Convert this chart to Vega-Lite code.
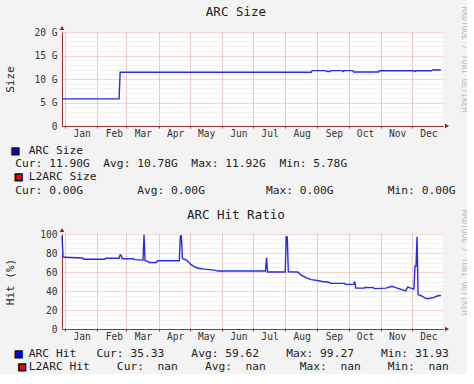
{
"$schema": "https://vega.github.io/schema/vega-lite/v6.json",
"background": "#f3f3f3",
"padding": {"left": 4, "top": 5, "right": 0, "bottom": 0},
"spacing": 10,
"config": {
  "font": "DejaVu Sans Mono",
  "view": {"stroke": null},
  "title": {"font": "DejaVu Sans Mono", "fontSize": 12.5, "fontWeight": "normal", "color": "#222222", "anchor": "middle", "offset": -12},
  "axis": {"labelFont": "DejaVu Sans Mono", "labelFontSize": 9.6, "labelColor": "#333333", "titleFont": "DejaVu Sans Mono", "titleFontSize": 11, "titleFontWeight": "normal", "titleColor": "#222222", "domainColor": "#993333"},
  "text": {"font": "DejaVu Sans Mono"}
},
"datasets": {
  "arc": [
    {"date": "2014-12-29", "v": 5.78}, {"date": "2015-02-22", "v": 5.78}, {"date": "2015-02-23", "v": 11.45},
    {"date": "2015-08-26", "v": 11.45}, {"date": "2015-08-27", "v": 11.78}, {"date": "2015-09-09", "v": 11.78},
    {"date": "2015-09-10", "v": 11.6}, {"date": "2015-09-13", "v": 11.6}, {"date": "2015-09-14", "v": 11.78},
    {"date": "2015-09-25", "v": 11.78}, {"date": "2015-09-26", "v": 11.6}, {"date": "2015-09-27", "v": 11.78},
    {"date": "2015-10-05", "v": 11.78}, {"date": "2015-10-06", "v": 11.5}, {"date": "2015-10-30", "v": 11.5},
    {"date": "2015-10-31", "v": 11.75}, {"date": "2015-12-03", "v": 11.75}, {"date": "2015-12-04", "v": 11.58},
    {"date": "2015-12-05", "v": 11.75}, {"date": "2015-12-20", "v": 11.75}, {"date": "2015-12-21", "v": 11.92},
    {"date": "2015-12-29", "v": 11.9}
  ],
  "hit": [
    {"date": "2014-12-29", "v": 98}, {"date": "2014-12-30", "v": 76}, {"date": "2014-12-31", "v": 75.5},
    {"date": "2015-01-18", "v": 74.8}, {"date": "2015-01-19", "v": 73.5}, {"date": "2015-02-08", "v": 73.5},
    {"date": "2015-02-09", "v": 74.5}, {"date": "2015-02-22", "v": 74.5}, {"date": "2015-02-23", "v": 78},
    {"date": "2015-02-24", "v": 77.5}, {"date": "2015-02-25", "v": 74}, {"date": "2015-03-08", "v": 74},
    {"date": "2015-03-09", "v": 73}, {"date": "2015-03-17", "v": 72.5}, {"date": "2015-03-18", "v": 99.27},
    {"date": "2015-03-19", "v": 72}, {"date": "2015-03-21", "v": 71.5}, {"date": "2015-03-23", "v": 70},
    {"date": "2015-03-30", "v": 70}, {"date": "2015-03-31", "v": 71.8}, {"date": "2015-04-21", "v": 71.8},
    {"date": "2015-04-22", "v": 98}, {"date": "2015-04-23", "v": 98}, {"date": "2015-04-24", "v": 74},
    {"date": "2015-04-27", "v": 73}, {"date": "2015-04-29", "v": 71.5}, {"date": "2015-05-02", "v": 68},
    {"date": "2015-05-05", "v": 66}, {"date": "2015-05-09", "v": 64}, {"date": "2015-05-15", "v": 63},
    {"date": "2015-05-25", "v": 62}, {"date": "2015-05-28", "v": 61}, {"date": "2015-07-13", "v": 61},
    {"date": "2015-07-14", "v": 75}, {"date": "2015-07-15", "v": 60}, {"date": "2015-08-01", "v": 60},
    {"date": "2015-08-02", "v": 97}, {"date": "2015-08-03", "v": 97}, {"date": "2015-08-04", "v": 60.2},
    {"date": "2015-08-13", "v": 60}, {"date": "2015-08-16", "v": 57}, {"date": "2015-08-21", "v": 54},
    {"date": "2015-08-26", "v": 52}, {"date": "2015-09-01", "v": 51}, {"date": "2015-09-06", "v": 50},
    {"date": "2015-09-11", "v": 49.5}, {"date": "2015-09-14", "v": 48.2}, {"date": "2015-09-27", "v": 48},
    {"date": "2015-09-28", "v": 47}, {"date": "2015-10-06", "v": 47}, {"date": "2015-10-07", "v": 50},
    {"date": "2015-10-08", "v": 43}, {"date": "2015-10-16", "v": 43}, {"date": "2015-10-17", "v": 43.8},
    {"date": "2015-10-25", "v": 43.5}, {"date": "2015-10-26", "v": 42.5}, {"date": "2015-11-06", "v": 43},
    {"date": "2015-11-12", "v": 45}, {"date": "2015-11-14", "v": 44}, {"date": "2015-11-25", "v": 40},
    {"date": "2015-11-27", "v": 44}, {"date": "2015-11-30", "v": 43}, {"date": "2015-12-03", "v": 42},
    {"date": "2015-12-04", "v": 66}, {"date": "2015-12-05", "v": 66}, {"date": "2015-12-06", "v": 97},
    {"date": "2015-12-07", "v": 36}, {"date": "2015-12-10", "v": 35}, {"date": "2015-12-13", "v": 33},
    {"date": "2015-12-16", "v": 31.93}, {"date": "2015-12-22", "v": 33}, {"date": "2015-12-26", "v": 35},
    {"date": "2015-12-29", "v": 35.33}
  ],
  "legA": [
    {"row": 1, "t": "\u200b\u00a0\u00a0ARC Size\u00a0\u00a0\u00a0\u00a0\u00a0\u00a0\u00a0\u00a0\u00a0\u00a0\u00a0\u00a0\u00a0\u00a0\u00a0\u00a0\u00a0\u00a0\u00a0\u00a0\u00a0\u00a0\u00a0\u00a0\u00a0\u00a0\u00a0\u00a0\u00a0\u00a0\u00a0\u00a0\u00a0\u00a0\u00a0\u00a0\u00a0\u00a0\u00a0\u00a0\u00a0\u00a0\u00a0\u00a0\u00a0\u00a0\u00a0\u00a0\u00a0\u00a0\u00a0\u00a0\u00a0\u00a0\u00a0\u200b"},
    {"row": 2, "t": "\u200bCur: 11.90G\u00a0\u00a0Avg: 10.78G\u00a0\u00a0Max: 11.92G\u00a0\u00a0Min: 5.78G\u00a0\u00a0\u00a0\u00a0\u00a0\u00a0\u00a0\u00a0\u00a0\u00a0\u00a0\u00a0\u00a0\u00a0\u00a0\u00a0\u200b"},
    {"row": 3, "t": "\u200b\u00a0\u00a0L2ARC Size\u00a0\u00a0\u00a0\u00a0\u00a0\u00a0\u00a0\u00a0\u00a0\u00a0\u00a0\u00a0\u00a0\u00a0\u00a0\u00a0\u00a0\u00a0\u00a0\u00a0\u00a0\u00a0\u00a0\u00a0\u00a0\u00a0\u00a0\u00a0\u00a0\u00a0\u00a0\u00a0\u00a0\u00a0\u00a0\u00a0\u00a0\u00a0\u00a0\u00a0\u00a0\u00a0\u00a0\u00a0\u00a0\u00a0\u00a0\u00a0\u00a0\u00a0\u00a0\u00a0\u00a0\u200b"},
    {"row": 4, "t": "\u200bCur: 0.00G\u00a0\u00a0\u00a0\u00a0\u00a0\u00a0\u00a0\u00a0Avg: 0.00G\u00a0\u00a0\u00a0\u00a0\u00a0\u00a0\u00a0\u00a0\u00a0Max: 0.00G\u00a0\u00a0\u00a0\u00a0\u00a0\u00a0\u00a0\u00a0Min: 0.00G\u200b"}
  ],
  "sqA": [
    {"row": 1, "s": "ARC", "t": "\u200b\u25a0\u00a0\u00a0\u00a0\u00a0\u00a0\u00a0\u00a0\u00a0\u00a0\u00a0\u00a0\u00a0\u00a0\u00a0\u00a0\u00a0\u00a0\u00a0\u00a0\u00a0\u00a0\u00a0\u00a0\u00a0\u00a0\u00a0\u00a0\u00a0\u00a0\u00a0\u00a0\u00a0\u00a0\u00a0\u00a0\u00a0\u00a0\u00a0\u00a0\u00a0\u00a0\u00a0\u00a0\u00a0\u00a0\u00a0\u00a0\u00a0\u00a0\u00a0\u00a0\u00a0\u00a0\u00a0\u00a0\u00a0\u00a0\u00a0\u00a0\u00a0\u00a0\u00a0\u00a0\u00a0\u00a0\u200b"},
    {"row": 3, "s": "L2ARC", "t": "\u200b\u25a0\u00a0\u00a0\u00a0\u00a0\u00a0\u00a0\u00a0\u00a0\u00a0\u00a0\u00a0\u00a0\u00a0\u00a0\u00a0\u00a0\u00a0\u00a0\u00a0\u00a0\u00a0\u00a0\u00a0\u00a0\u00a0\u00a0\u00a0\u00a0\u00a0\u00a0\u00a0\u00a0\u00a0\u00a0\u00a0\u00a0\u00a0\u00a0\u00a0\u00a0\u00a0\u00a0\u00a0\u00a0\u00a0\u00a0\u00a0\u00a0\u00a0\u00a0\u00a0\u00a0\u00a0\u00a0\u00a0\u00a0\u00a0\u00a0\u00a0\u00a0\u00a0\u00a0\u00a0\u00a0\u200b"}
  ],
  "legB": [
    {"row": 1, "t": "\u200b\u00a0\u00a0ARC Hit\u00a0\u00a0\u00a0Cur: 35.33\u00a0\u00a0\u00a0\u00a0Avg: 59.62\u00a0\u00a0\u00a0\u00a0Max: 99.27\u00a0\u00a0\u00a0\u00a0Min: 31.93\u00a0\u200b"},
    {"row": 2, "t": "\u200b\u00a0\u00a0L2ARC Hit\u00a0\u00a0\u00a0\u00a0Cur:\u00a0\u00a0nan\u00a0\u00a0\u00a0\u00a0Avg:\u00a0\u00a0nan\u00a0\u00a0\u00a0\u00a0\u00a0Max:\u00a0\u00a0nan\u00a0\u00a0\u00a0\u00a0Min:\u00a0\u00a0nan\u00a0\u200b"}
  ],
  "sqB": [
    {"row": 1, "s": "ARC", "t": "\u200b\u25a0\u00a0\u00a0\u00a0\u00a0\u00a0\u00a0\u00a0\u00a0\u00a0\u00a0\u00a0\u00a0\u00a0\u00a0\u00a0\u00a0\u00a0\u00a0\u00a0\u00a0\u00a0\u00a0\u00a0\u00a0\u00a0\u00a0\u00a0\u00a0\u00a0\u00a0\u00a0\u00a0\u00a0\u00a0\u00a0\u00a0\u00a0\u00a0\u00a0\u00a0\u00a0\u00a0\u00a0\u00a0\u00a0\u00a0\u00a0\u00a0\u00a0\u00a0\u00a0\u00a0\u00a0\u00a0\u00a0\u00a0\u00a0\u00a0\u00a0\u00a0\u00a0\u00a0\u00a0\u00a0\u200b"},
    {"row": 2, "s": "L2ARC", "t": "\u200b\u25a0\u00a0\u00a0\u00a0\u00a0\u00a0\u00a0\u00a0\u00a0\u00a0\u00a0\u00a0\u00a0\u00a0\u00a0\u00a0\u00a0\u00a0\u00a0\u00a0\u00a0\u00a0\u00a0\u00a0\u00a0\u00a0\u00a0\u00a0\u00a0\u00a0\u00a0\u00a0\u00a0\u00a0\u00a0\u00a0\u00a0\u00a0\u00a0\u00a0\u00a0\u00a0\u00a0\u00a0\u00a0\u00a0\u00a0\u00a0\u00a0\u00a0\u00a0\u00a0\u00a0\u00a0\u00a0\u00a0\u00a0\u00a0\u00a0\u00a0\u00a0\u00a0\u00a0\u00a0\u200b"}
  ]
},
"vconcat": [
  {
    "title": {"text": "ARC Size"},
    "spacing": 6,
    "vconcat": [
      {
        "width": 381, "height": 94,
        "view": {"fill": "#ffffff"},
        "resolve": {"axis": {"x": "independent", "y": "independent"}},
        "layer": [
          {
            "data": {"name": "arc"},
            "mark": {"type": "line", "color": "#2a2ae8", "strokeWidth": 1.4},
            "encoding": {
              "x": {"field": "date", "type": "temporal",
                "scale": {"domain": [{"year": 2014, "month": 12, "date": 29, "utc": true}, {"year": 2015, "month": 12, "date": 31, "utc": true}]},
                "axis": {"values": [{"year": 2015, "month": 1, "date": 1, "utc": true}, {"year": 2015, "month": 2, "date": 1, "utc": true}, {"year": 2015, "month": 3, "date": 1, "utc": true}, {"year": 2015, "month": 4, "date": 1, "utc": true}, {"year": 2015, "month": 5, "date": 1, "utc": true}, {"year": 2015, "month": 6, "date": 1, "utc": true}, {"year": 2015, "month": 7, "date": 1, "utc": true}, {"year": 2015, "month": 8, "date": 1, "utc": true}, {"year": 2015, "month": 9, "date": 1, "utc": true}, {"year": 2015, "month": 10, "date": 1, "utc": true}, {"year": 2015, "month": 11, "date": 1, "utc": true}, {"year": 2015, "month": 12, "date": 1, "utc": true}],
                  "labelExpr": "utcFormat(datum.value, '%b')", "labelOffset": 16.5, "labelFlush": false, "labelOverlap": false,
                  "grid": true, "gridColor": "#eaa8a8", "gridDash": [2, 1],
                  "tickSize": 2, "tickColor": "#993333", "labelPadding": 0, "title": null}},
              "y": {"field": "v", "type": "quantitative",
                "scale": {"domain": [0, 20], "nice": false},
                "axis": {"values": [0,1,2,3,4,5,6,7,8,9,10,11,12,13,14,15,16,17,18,19,20],
                  "labelExpr": "datum.value == 0 ? '0' : (datum.value % 5 == 0 ? datum.value + ' G' : '')",
                  "labelOverlap": false, "grid": true,
                  "gridColor": {"condition": {"test": "datum.value % 5 == 0", "value": "#eaa8a8"}, "value": "#e4e4e4"},
                  "gridDash": [1, 1], "ticks": false, "labelPadding": 5,
                  "title": "Size", "titlePadding": 18}}
            }
          },
          {
            "data": {"values": [{}]},
            "mark": {"type": "point", "shape": "triangle-up", "filled": true, "color": "#a01818", "size": 22, "yOffset": -4, "opacity": 1},
            "encoding": {
              "x": {"datum": {"year": 2014, "month": 12, "date": 29, "utc": true}, "type": "temporal", "axis": null},
              "y": {"datum": 20, "type": "quantitative", "axis": null}
            }
          },
          {
            "data": {"values": [{}]},
            "mark": {"type": "point", "shape": "triangle-right", "filled": true, "color": "#a01818", "size": 22, "xOffset": 4, "opacity": 1},
            "encoding": {
              "x": {"datum": {"year": 2015, "month": 12, "date": 31, "utc": true}, "type": "temporal", "axis": null},
              "y": {"datum": 0, "type": "quantitative",
                "axis": {"orient": "right", "labels": false, "ticks": false, "domain": false, "grid": false,
                  "title": "RRDTOOL / TOBI OETIKER", "titleAngle": 90, "titleX": 20, "titleY": -26,
                  "titleAlign": "left", "titleBaseline": "middle", "titleColor": "#bdbdbd", "titleFontSize": 8}}
            }
          }
        ]
      },
      {
        "width": 346.8, "height": 53.2,
        "layer": [
          {
            "data": {"name": "legA"},
            "mark": {"type": "text", "align": "center", "baseline": "middle", "fontSize": 11.25, "color": "#222222"},
            "encoding": {"y": {"field": "row", "type": "ordinal", "axis": null}, "text": {"field": "t"}}
          },
          {
            "data": {"name": "sqA"},
            "mark": {"type": "text", "align": "center", "baseline": "middle", "fontSize": 11.25, "stroke": "#111111", "strokeWidth": 1.6},
            "encoding": {"y": {"field": "row", "type": "ordinal", "axis": null}, "text": {"field": "t"},
              "color": {"field": "s", "type": "nominal", "scale": {"domain": ["ARC", "L2ARC"], "range": ["#0000ff", "#ff0000"]}, "legend": null}}
          }
        ]
      }
    ]
  },
  {
    "title": {"text": "ARC Hit Ratio"},
    "spacing": 6,
    "vconcat": [
      {
        "width": 381, "height": 95,
        "view": {"fill": "#ffffff"},
        "resolve": {"axis": {"x": "independent", "y": "independent"}},
        "layer": [
          {
            "data": {"name": "hit"},
            "mark": {"type": "line", "color": "#2a2ae8", "strokeWidth": 1.4},
            "encoding": {
              "x": {"field": "date", "type": "temporal",
                "scale": {"domain": [{"year": 2014, "month": 12, "date": 29, "utc": true}, {"year": 2015, "month": 12, "date": 31, "utc": true}]},
                "axis": {"values": [{"year": 2015, "month": 1, "date": 1, "utc": true}, {"year": 2015, "month": 2, "date": 1, "utc": true}, {"year": 2015, "month": 3, "date": 1, "utc": true}, {"year": 2015, "month": 4, "date": 1, "utc": true}, {"year": 2015, "month": 5, "date": 1, "utc": true}, {"year": 2015, "month": 6, "date": 1, "utc": true}, {"year": 2015, "month": 7, "date": 1, "utc": true}, {"year": 2015, "month": 8, "date": 1, "utc": true}, {"year": 2015, "month": 9, "date": 1, "utc": true}, {"year": 2015, "month": 10, "date": 1, "utc": true}, {"year": 2015, "month": 11, "date": 1, "utc": true}, {"year": 2015, "month": 12, "date": 1, "utc": true}],
                  "labelExpr": "utcFormat(datum.value, '%b')", "labelOffset": 16.5, "labelFlush": false, "labelOverlap": false,
                  "grid": true, "gridColor": "#eaa8a8", "gridDash": [2, 1],
                  "tickSize": 2, "tickColor": "#993333", "labelPadding": 0, "title": null}},
              "y": {"field": "v", "type": "quantitative",
                "scale": {"domain": [0, 100], "nice": false},
                "axis": {"values": [0,5,10,15,20,25,30,35,40,45,50,55,60,65,70,75,80,85,90,95,100],
                  "labelExpr": "datum.value % 20 == 0 ? datum.value : ''",
                  "labelOverlap": false, "grid": true,
                  "gridColor": {"condition": {"test": "datum.value % 20 == 0", "value": "#eaa8a8"}, "value": "#e4e4e4"},
                  "gridDash": [1, 1], "ticks": false, "labelPadding": 5,
                  "title": "Hit (%)", "titlePadding": 24}}
            }
          },
          {
            "data": {"values": [{}]},
            "mark": {"type": "point", "shape": "triangle-up", "filled": true, "color": "#a01818", "size": 22, "yOffset": -4, "opacity": 1},
            "encoding": {
              "x": {"datum": {"year": 2014, "month": 12, "date": 29, "utc": true}, "type": "temporal", "axis": null},
              "y": {"datum": 100, "type": "quantitative", "axis": null}
            }
          },
          {
            "data": {"values": [{}]},
            "mark": {"type": "point", "shape": "triangle-right", "filled": true, "color": "#a01818", "size": 22, "xOffset": 4, "opacity": 1},
            "encoding": {
              "x": {"datum": {"year": 2015, "month": 12, "date": 31, "utc": true}, "type": "temporal", "axis": null},
              "y": {"datum": 0, "type": "quantitative",
                "axis": {"orient": "right", "labels": false, "ticks": false, "domain": false, "grid": false,
                  "title": "RRDTOOL / TOBI OETIKER", "titleAngle": 90, "titleX": 20, "titleY": -25,
                  "titleAlign": "left", "titleBaseline": "middle", "titleColor": "#bdbdbd", "titleFontSize": 8}}
            }
          }
        ]
      },
      {
        "width": 346.8, "height": 26.6,
        "layer": [
          {
            "data": {"name": "legB"},
            "mark": {"type": "text", "align": "center", "baseline": "middle", "fontSize": 11.25, "color": "#222222"},
            "encoding": {"y": {"field": "row", "type": "ordinal", "axis": null}, "text": {"field": "t"}}
          },
          {
            "data": {"name": "sqB"},
            "mark": {"type": "text", "align": "center", "baseline": "middle", "fontSize": 11.25, "stroke": "#111111", "strokeWidth": 1.6},
            "encoding": {"y": {"field": "row", "type": "ordinal", "axis": null}, "text": {"field": "t"},
              "color": {"field": "s", "type": "nominal", "scale": {"domain": ["ARC", "L2ARC"], "range": ["#0000ff", "#ff0000"]}, "legend": null}}
          }
        ]
      }
    ]
  }
]
}
